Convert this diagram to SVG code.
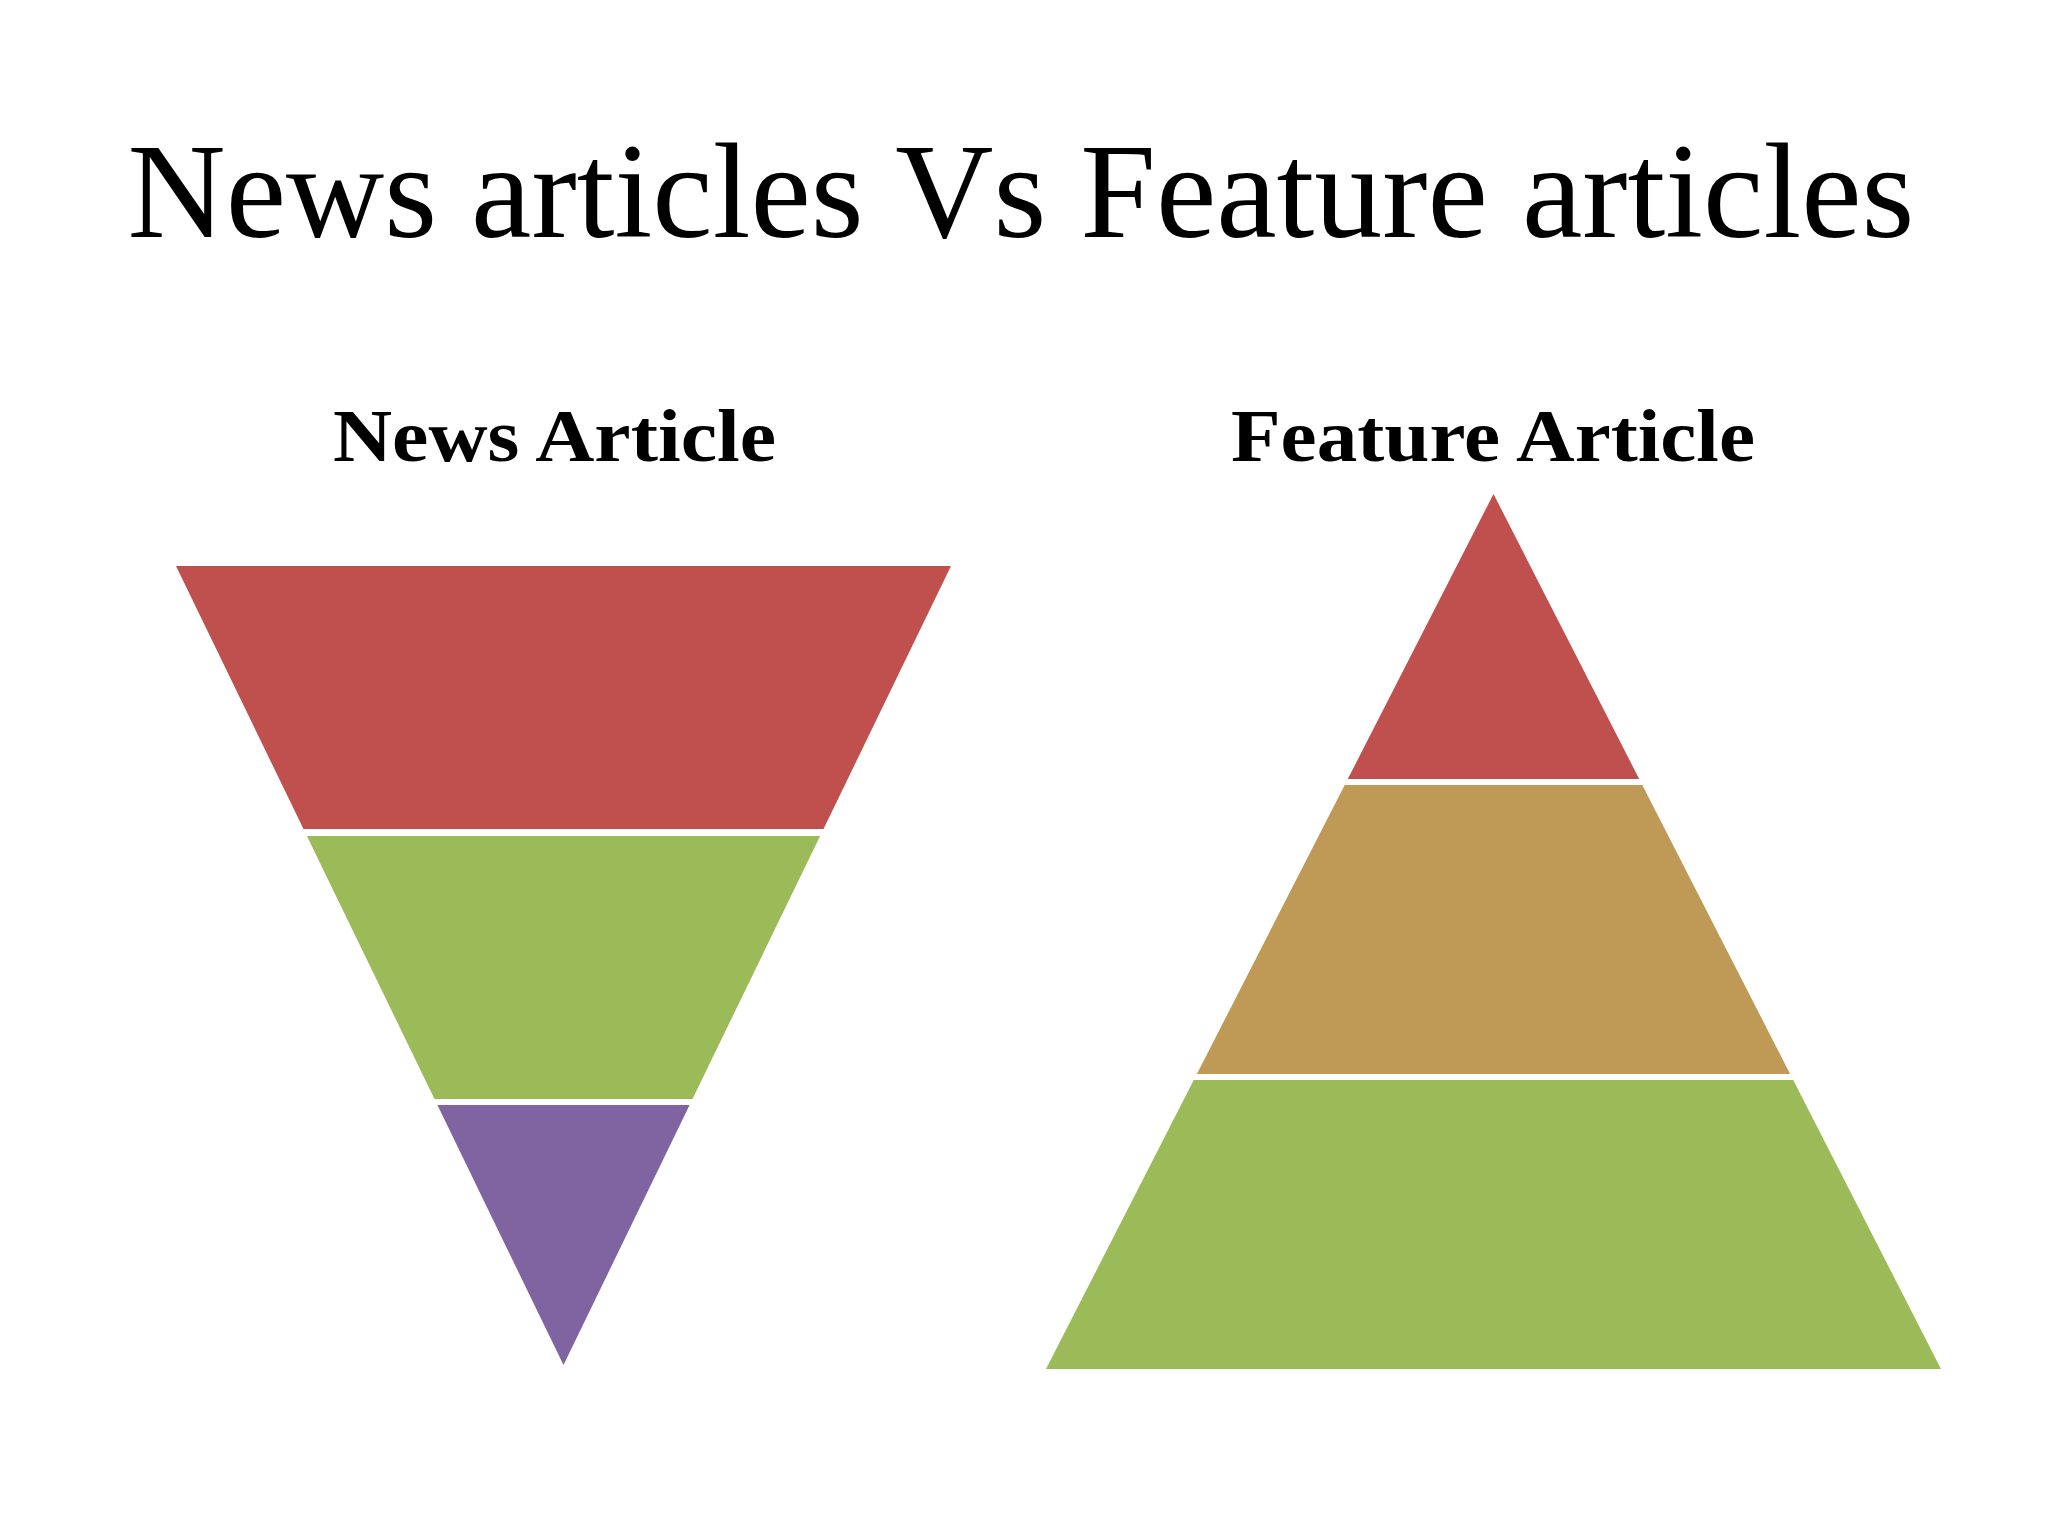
<svg xmlns="http://www.w3.org/2000/svg" width="2048" height="1536" viewBox="0 0 2048 1536">
<style>
.title{font-family:"Liberation Serif","Times New Roman",serif;font-size:135px;fill:#000}
.sub{font-family:"Liberation Serif","Times New Roman",serif;font-size:73px;font-weight:bold;fill:#000}
.red{fill:#C0504D}.green{fill:#9BBB59}.purple{fill:#8064A2}.tan{fill:#BE9A56}
</style>
<rect width="2048" height="1536" fill="#fff"/>
<text class="title" x="1021" y="237" text-anchor="middle" textLength="1787" lengthAdjust="spacingAndGlyphs">News articles Vs Feature articles</text>
<g id="news">
<text class="sub" x="333" y="461" textLength="443" lengthAdjust="spacingAndGlyphs">News Article</text>
<polygon id="news-1" class="red" points="176,566 951,566 823.5,829 303.5,829"/>
<polygon id="news-2" class="green" points="306.9,836 820.1,836 692.5,1099 434.5,1099"/>
<polygon id="news-3" class="purple" points="437.4,1105 689.6,1105 563.5,1365"/>
</g>
<g id="feature">
<text class="sub" x="1231" y="461" textLength="524" lengthAdjust="spacingAndGlyphs">Feature Article</text>
<polygon id="feature-1" class="red" points="1493.5,494 1639.2,779 1347.8,779"/>
<polygon id="feature-2" class="tan" points="1344.7,785 1642.3,785 1790.1,1074 1196.9,1074"/>
<polygon id="feature-3" class="green" points="1193.8,1080 1793.2,1080 1941,1369 1046,1369"/>
</g>
<g id="connectors"/>
</svg>
